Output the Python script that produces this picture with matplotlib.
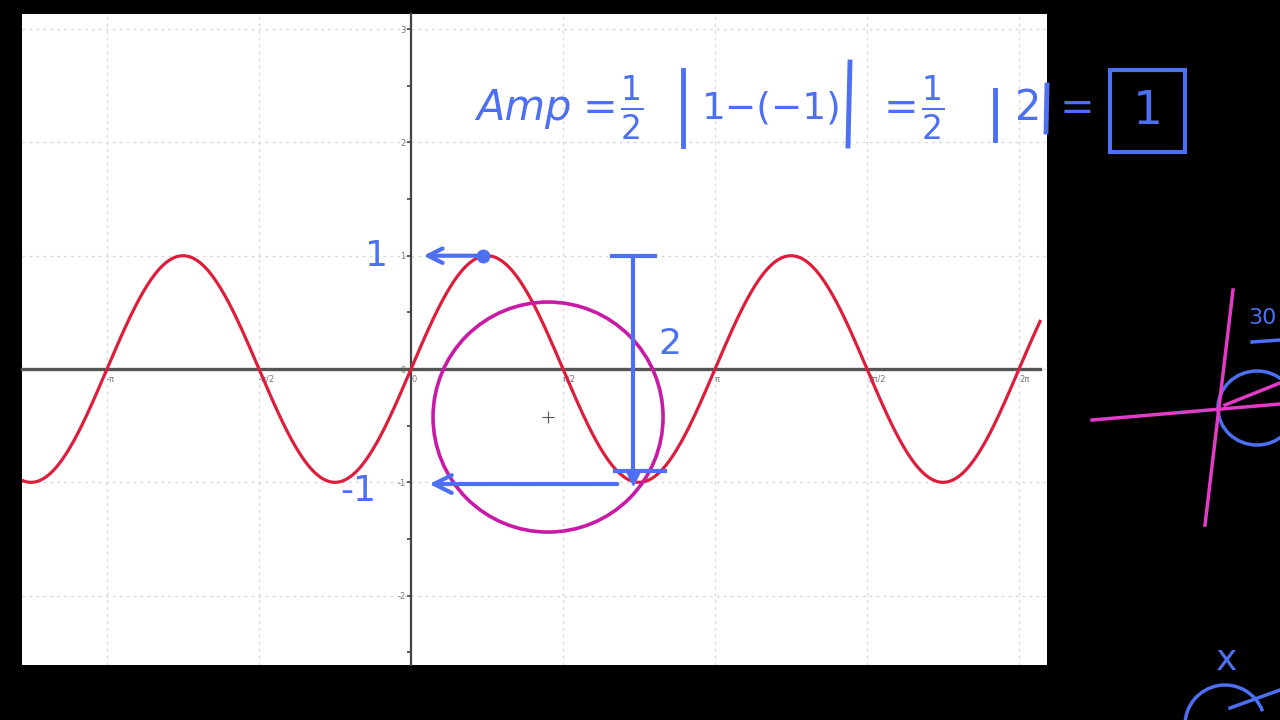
import matplotlib
matplotlib.use("Agg")
import matplotlib.pyplot as plt
import numpy as np
from matplotlib.patches import Ellipse, Arc, Rectangle

# curve: y = amp * sin(freq * x)
amplitude = 1.0
frequency = 2.0
x_start, x_end = -4.02, 6.50

# axes ranges and ticks
x_limits = (-4.02, 6.572)
y_limits = (-2.612, 3.133)
x_tick_values = [-np.pi, -np.pi / 2, 0, np.pi / 2, np.pi, 3 * np.pi / 2, 2 * np.pi]
x_tick_labels = ["-π", "-π/2", "0", "π/2", "π", "3π/2", "2π"]
y_tick_values = [-2, -1, 0, 1, 2, 3]
y_tick_labels = ["-2", "-1", "0", "1", "2", "3"]
y_minor_values = [-2.5, -1.5, -0.5, 0.5, 1.5, 2.5]

# handwritten notes
amp_high = 1
amp_low = -1
amp_range = amp_high - amp_low
amp_result = amp_range / 2

BLUE = "#4d6ff2"
MAGENTA = "#c81aa6"
PINK = "#e33bc8"
RED = "#dc1e3c"

fig = plt.figure(figsize=(12.8, 7.2), dpi=100, facecolor="black")
ax = fig.add_axes([22 / 1280, 55 / 720, 1025 / 1280, 651 / 720])
ax.set_facecolor("white")
ax.set_xlim(*x_limits)
ax.set_ylim(*y_limits)

# axes through the origin
for side in ["top", "right"]:
    ax.spines[side].set_visible(False)
ax.spines["left"].set_position(("data", 0))
ax.spines["bottom"].set_position(("data", 0))
ax.spines["left"].set_color("#444444")
ax.spines["left"].set_linewidth(1.6)
ax.spines["bottom"].set_color("#555555")
ax.spines["bottom"].set_linewidth(2.4)
ax.spines["bottom"].set_bounds(x_limits[0], 6.50)

ax.set_xticks(x_tick_values, x_tick_labels)
ax.set_yticks(y_tick_values, y_tick_labels)
ax.set_yticks(y_minor_values, minor=True)
ax.tick_params(axis="x", length=0, labelsize=6, labelcolor="#777777", pad=4)
ax.tick_params(axis="y", which="both", length=3, width=1.2, color="#444444",
               labelsize=6, labelcolor="#777777", pad=1)
for lbl in ax.get_xticklabels():
    lbl.set_horizontalalignment("left")
ax.grid(True, linestyle=(0, (2, 3)), color="#d8d8d8", linewidth=1)
ax.set_axisbelow(True)

# the sine curve
xs = np.linspace(x_start, x_end, 800)
ax.plot(xs, amplitude * np.sin(frequency * xs), color=RED, lw=2.3, zorder=3)

# --- annotations tied to the graph ---
peak_x = 0.745
ax.plot(peak_x, amp_high, "o", color=BLUE, ms=9, zorder=5)
ax.annotate("", xy=(0.10, amp_high), xytext=(peak_x, amp_high),
            arrowprops=dict(arrowstyle="->", color=BLUE, lw=3, mutation_scale=26), zorder=5)
ax.text(-0.36, amp_high, "1", color=BLUE, fontsize=26, ha="center", va="center", zorder=5)

ax.annotate("", xy=(0.16, -1.015), xytext=(2.16, -1.015),
            arrowprops=dict(arrowstyle="->", color=BLUE, lw=3, mutation_scale=32), zorder=5)
ax.text(-0.55, -1.08, "-1", color=BLUE, fontsize=26, ha="center", va="center", zorder=5)

bar_x = 2.294
ax.plot([bar_x, bar_x], [amp_high, amp_low + 0.02], color=BLUE, lw=3, zorder=5)
ax.plot([2.077, 2.52], [amp_high, amp_high], color=BLUE, lw=3, zorder=5)
ax.plot([2.108, 2.625], [-0.90, -0.90], color=BLUE, lw=3, zorder=5)
ax.plot(bar_x, -0.96, "v", color=BLUE, ms=10, zorder=5)
ax.text(2.68, 0.22, str(amp_range), color=BLUE, fontsize=26, ha="center", va="center", zorder=5)

ax.add_patch(Ellipse((1.416, -0.424), 2.377, 2.03, fill=False, edgecolor=MAGENTA, lw=2.6, zorder=4))
ax.plot(1.416, -0.424, "+", color="#555555", ms=8, mew=0.8, zorder=6)

# --- overlay in pixel space for notes outside the graph ---
ov = fig.add_axes([0, 0, 1, 1], facecolor="none")
ov.set_xlim(0, 1280)
ov.set_ylim(720, 0)
ov.axis("off")

# Amp = 1/2 |1 - (-1)| = 1/2 |2| = [1]
eq_y = 108
ov.text(476, eq_y, "Amp", color=BLUE, fontsize=30, style="italic", ha="left", va="center")
ov.text(583, eq_y, "=", color=BLUE, fontsize=30, ha="left", va="center")
ov.text(620, eq_y, r"$\frac{1}{2}$", color=BLUE, fontsize=34, ha="left", va="center")
ov.plot([683, 683], [70, 146], color=BLUE, lw=3.5)
ov.text(702, eq_y, "1−(−1)", color=BLUE, fontsize=27, ha="left", va="center")
ov.plot([850, 848], [62, 146], color=BLUE, lw=3.5)
ov.text(884, eq_y, "=", color=BLUE, fontsize=30, ha="left", va="center")
ov.text(921, eq_y, r"$\frac{1}{2}$", color=BLUE, fontsize=34, ha="left", va="center")
ov.plot([995, 995], [90, 140], color=BLUE, lw=3.5)
ov.text(1015, eq_y, str(amp_range), color=BLUE, fontsize=30, ha="left", va="center")
ov.plot([1047, 1046], [85, 132], color=BLUE, lw=3.5)
ov.text(1060, eq_y, "=", color=BLUE, fontsize=30, ha="left", va="center")
ov.add_patch(Rectangle((1110, 70), 75, 82, fill=False, edgecolor=BLUE, lw=3))
ov.text(1148, 111, "%d" % amp_result, color=BLUE, fontsize=34, ha="center", va="center")

# right-side unit-circle sketch
ov.plot([1092, 1280], [420, 404], color=PINK, lw=2.5)
ov.plot([1233, 1205], [290, 525], color=PINK, lw=2.5)
ov.plot([1225, 1280], [405, 383], color=PINK, lw=2.5)
ov.add_patch(Ellipse((1257, 408), 78, 74, fill=False, edgecolor=BLUE, lw=2.5))
ov.text(1248, 318, "30", color=BLUE, fontsize=16, ha="left", va="center")
ov.plot([1252, 1280], [342, 340], color=BLUE, lw=2.5)
ov.text(1227, 660, "x", color=BLUE, fontsize=26, ha="center", va="center")
ov.add_patch(Arc((1225, 725), 80, 80, theta1=180, theta2=340, edgecolor=BLUE, lw=2.5))
ov.plot([1230, 1280], [708, 690], color=BLUE, lw=2.5)

fig.savefig("out.png", dpi=100, facecolor="black")
